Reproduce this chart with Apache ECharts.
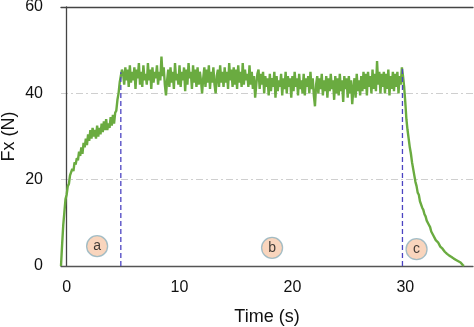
<!DOCTYPE html>
<html>
<head>
<meta charset="utf-8">
<script src="https://cdn.jsdelivr.net/npm/echarts@6/dist/echarts.min.js"></script>
<style>
  html, body { margin: 0; padding: 0; background: #fff; }
  #chart { width: 474px; height: 327px; }
</style>
</head>
<body>
<div id="chart"></div>
<script>
// Force sampled every 0.1 s, starting at t = -0.5 s
const sampleStart = -0.5;
const sampleStep = 0.1;

// Loading phase (a): t = -0.5 … 4.9 s
const forceRise = [
  0, 5, 9.5, 12.5, 15.5, 16.5, 18.5, 19, 21, 21,
  22.5, 22, 24, 23.5, 25, 24.5, 26.5, 25.5, 27.5, 26,
  28.5, 27.5, 29.5, 28, 30.5, 29, 31.5, 29.5, 32, 30,
  31.5, 29.5, 32.5, 30, 32, 30.5, 33, 31, 33.5, 31.5,
  34, 31.5, 33, 32, 34.5, 32.5, 35, 33, 35.5, 36,
  38.5, 40, 42.5, 44, 45.5
];

// Holding phase (b): t = 5.0 … 29.7 s
const forcePlateau = [
  44.5, 42, 46, 43, 45.5, 41.5, 46.5, 42.5, 45, 43,
  46, 41, 45.5, 43.5, 47, 42, 45, 41.5, 46.5, 43,
  44.5, 42, 47, 43, 45.5, 41, 46, 42.5, 45, 43.5,
  46.5, 42, 45, 43, 48.5, 44, 46, 42, 39.5, 43,
  45.5, 41.5, 46, 42.5, 45, 41, 47, 43, 44.5, 42,
  46.5, 41.5, 45, 43, 46, 40.5, 45.5, 42, 47, 43.5,
  45, 41, 46.5, 42.5, 45.5, 41.5, 46, 42, 45, 43,
  40, 43.5, 46, 41.5, 45.5, 42.5, 46.5, 41, 45, 42.5,
  46, 42, 40, 44, 45.5, 41.5, 46.5, 42.5, 45, 41.5,
  46, 42.5, 45, 41, 47, 43, 45.5, 41.5, 46, 42,
  45.5, 41, 46.5, 42.5, 45, 41.5, 47, 42, 45.5, 43,
  44.5, 41.5, 46.5, 42, 45, 41, 44, 39, 42, 44.5,
  45.5, 41, 44.5, 42, 45, 40, 44, 41.5, 43.5, 39.5,
  44.5, 40.5, 43.5, 41.5, 45, 39, 44, 40.5, 43, 41.5,
  44.5, 39.5, 43.5, 41, 45, 40, 44, 41.5, 43.5, 39,
  44, 40.5, 45, 41.5, 43.5, 39.5, 44.5, 41, 43, 40,
  44.5, 39.5, 43.5, 41.5, 44, 40, 45, 41, 43.5, 39.5,
  37, 42, 44, 40, 43.5, 41, 44.5, 39.5, 43, 40.5,
  44, 39, 43.5, 40.5, 44.5, 41, 43, 38.5, 44, 40,
  43.5, 39.5, 44.5, 40.5, 43, 38, 44, 41, 43.5, 39,
  44, 40, 43, 37.5, 41, 43.5, 39, 44.5, 40.5, 43,
  39.5, 44, 40.5, 45, 41, 44.5, 39.5, 45, 41.5, 44,
  40, 45.5, 41, 44.5, 40.5, 47.5, 42, 45, 40, 44.5,
  41.5, 45, 40, 44.5, 41, 45.5, 39.5, 44, 41, 45,
  40.5, 44.5, 41.5, 45, 40, 44, 42, 46
];

// Unloading phase (c): t = 29.8 … 35.2 s
const forceDecay = [
  44, 41.5, 38, 34, 31.5, 29.5, 27.5, 26, 24, 22.5,
  21, 19.5, 18.5, 17, 16.5, 15, 15, 13.5, 13, 12,
  11.5, 10.5, 10.5, 9.5, 9, 8, 8, 7, 7, 6,
  6, 5.5, 5, 4.5, 4.5, 4, 3.8, 3.3, 3.3, 2.8,
  2.8, 2.4, 2.5, 2.1, 2, 1.7, 1.8, 1.4, 1.5, 1.1,
  1.1, 0.8, 0.6, 0.2, 0
];

// Phase boundaries: [time (s), top of marker (N)]
const phaseBoundaries = [[4.8, 44.9], [29.75, 46]];

// Phase tags: [time (s), force (N), tag]
const phaseTags = [[2.7, 4.6, 'a'], [18.2, 4.2, 'b'], [31.0, 3.9, 'c']];

// Axis ticks
const xTicks = [0, 10, 20, 30];
const yTicks = [0, 20, 40, 60];

const forceValues = forceRise.concat(forcePlateau, forceDecay);
const forceSeries = forceValues.map((v, i) => [
  Math.round((sampleStart + i * sampleStep) * 100) / 100, v
]);

const font = 'Liberation Sans, Arial, sans-serif';
const chart = echarts.init(document.getElementById('chart'), null, { renderer: 'canvas' });

chart.setOption({
  animation: false,
  backgroundColor: '#fff',
  grid: { left: 61, right: 1, top: 7, bottom: 61, containLabel: false, outerBoundsMode: 'none' },
  xAxis: [{
    type: 'value',
    min: -0.5,
    max: 36,
    name: 'Time (s)',
    nameLocation: 'middle',
    nameGap: 42,
    nameMoveOverlap: false,
    nameTextStyle: { fontFamily: font, fontSize: 18, color: '#111' },
    axisLine: { show: true, lineStyle: { color: '#555', width: 1.3 } },
    axisTick: { show: false },
    splitLine: { show: false },
    axisLabel: {
      customValues: xTicks,
      margin: 14,
      fontFamily: font, fontSize: 16, color: '#111'
    }
  }, {
    type: 'value',
    position: 'top',
    min: -0.5,
    max: 36,
    axisLine: { show: true, onZero: false, lineStyle: { color: '#444', width: 1.3 } },
    axisTick: { show: false },
    axisLabel: { show: false },
    splitLine: { show: false }
  }],
  yAxis: {
    type: 'value',
    min: 0,
    max: 60,
    interval: 20,
    name: 'Fx (N)',
    nameLocation: 'middle',
    nameGap: 43,
    nameMoveOverlap: false,
    nameTextStyle: { fontFamily: font, fontSize: 18, color: '#111' },
    axisLine: { show: true, lineStyle: { color: '#444', width: 1.3 } },
    axisTick: { show: false },
    axisLabel: {
      customValues: yTicks,
      margin: 18,
      fontFamily: font, fontSize: 16, color: '#111'
    },
    splitLine: {
      show: true,
      showMinLine: false,
      showMaxLine: false,
      lineStyle: { color: '#cfcfcf', width: 1, type: [7, 3, 2, 3] }
    }
  },
  series: [
    {
      type: 'line',
      data: forceSeries,
      symbol: 'none',
      lineStyle: { color: '#6aab40', width: 2.4 },
      z: 3
    },
    ...phaseBoundaries.map(([t, top]) => ({
      type: 'line',
      data: [[t, 0], [t, top]],
      symbol: 'none',
      lineStyle: { color: '#4b43c2', width: 1.3, type: [5, 3] },
      z: 4
    })),
    {
      type: 'scatter',
      data: phaseTags,
      symbol: 'circle',
      symbolSize: 21,
      itemStyle: { color: '#f8cbad', borderColor: '#8db0bd', borderWidth: 1.3 },
      label: {
        show: true,
        position: 'inside',
        formatter: p => p.value[2],
        fontFamily: font, fontSize: 14, color: '#111'
      },
      z: 5
    }
  ]
});
</script>
</body>
</html>
